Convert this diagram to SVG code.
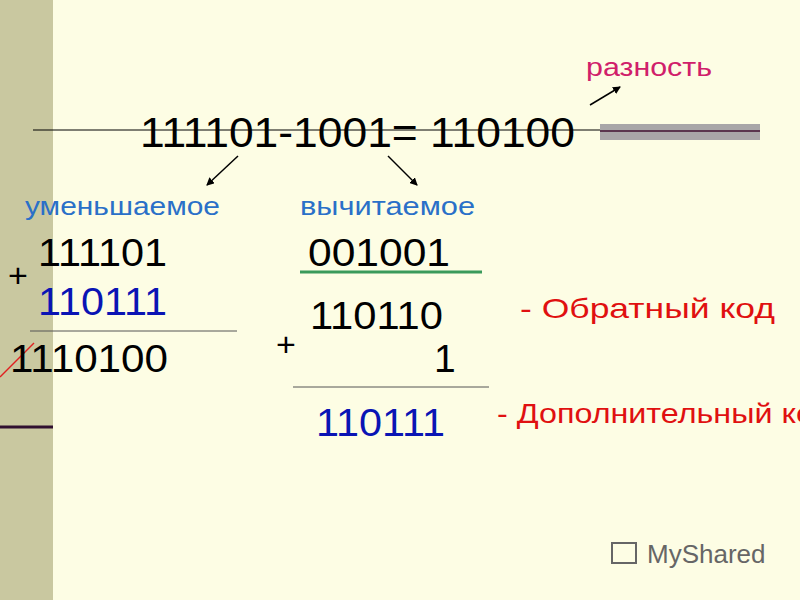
<svg xmlns="http://www.w3.org/2000/svg" width="800" height="600" viewBox="0 0 800 600">
<defs>
<marker id="ah" markerWidth="8" markerHeight="8" refX="7" refY="4" orient="auto" markerUnits="userSpaceOnUse"><path d="M0,0 L8,4 L0,8 z" fill="#000"/></marker>
<style>
text{font-family:"Liberation Sans",Arial,sans-serif}
.big{font-size:42px;fill:#000}
.num{font-size:39px;fill:#000}
.blue{fill:#0a14b4}
.lbl{font-size:25px;fill:#2a70c8}
.red{font-size:28px;fill:#e01010}
.ln{stroke:#000;stroke-width:1}
</style>
</defs>
<rect width="800" height="600" fill="#fdfde4"/>
<rect x="0" y="0" width="53" height="600" fill="#c9c8a0"/>
<g id="connectors">
<line class="ln" x1="33" y1="130" x2="760" y2="130"/>
<rect x="600" y="124" width="160" height="16" fill="#a8a6a8"/>
<line x1="600" y1="131" x2="760" y2="131" stroke="#401030" stroke-width="1.5"/>
<line x1="238" y1="156" x2="207" y2="185" stroke="#000" stroke-width="1.5" marker-end="url(#ah)"/>
<line x1="388" y1="156" x2="417" y2="185" stroke="#000" stroke-width="1.5" marker-end="url(#ah)"/>
<line x1="590" y1="105" x2="620" y2="87" stroke="#000" stroke-width="1.5" marker-end="url(#ah)"/>
<line x1="300" y1="272" x2="482" y2="272" stroke="#3a9a5a" stroke-width="3"/>
<line x1="30" y1="331" x2="237" y2="331" stroke="#555" stroke-width="1"/>
<line x1="293" y1="387" x2="489" y2="387" stroke="#555" stroke-width="1"/>
<line x1="0" y1="377" x2="34" y2="343" stroke="#e02020" stroke-width="1.5"/>
<line x1="0" y1="427" x2="53" y2="427" stroke="#301030" stroke-width="3"/>
</g>
<g id="equation"><text class="big" x="140" y="147" textLength="435" lengthAdjust="spacingAndGlyphs">111101-1001= 110100</text></g>
<g id="raznost"><text x="586" y="76" font-size="26" fill="#d0206a" textLength="126" lengthAdjust="spacingAndGlyphs">разность</text></g>
<g id="umen"><text class="lbl" x="25" y="215" textLength="195" lengthAdjust="spacingAndGlyphs">уменьшаемое</text></g>
<g id="vych"><text class="lbl" x="300" y="215" textLength="175" lengthAdjust="spacingAndGlyphs">вычитаемое</text></g>
<g id="left-sum">
<text class="num" x="38" y="266" textLength="129" lengthAdjust="spacingAndGlyphs">111101</text>
<text x="8" y="287" font-size="34" fill="#000">+</text>
<text class="num blue" x="38" y="315" textLength="129" lengthAdjust="spacingAndGlyphs">110111</text>
<text class="num" x="10" y="372" textLength="158" lengthAdjust="spacingAndGlyphs">1110100</text>
</g>
<g id="right-sum">
<text class="num" x="308" y="266" textLength="142" lengthAdjust="spacingAndGlyphs">001001</text>
<text class="num" x="310" y="329" textLength="133" lengthAdjust="spacingAndGlyphs">110110</text>
<text x="276" y="356" font-size="34" fill="#000">+</text>
<text class="num" x="434" y="372">1</text>
<text class="num blue" x="316" y="436" textLength="129" lengthAdjust="spacingAndGlyphs">110111</text>
</g>
<g id="labels">
<text class="red" x="520" y="318" textLength="255" lengthAdjust="spacingAndGlyphs">- Обратный код</text>
<text class="red" x="497" y="423" font-size="26" textLength="335" lengthAdjust="spacingAndGlyphs">- Дополнительный код</text>
</g>
<g id="logo"><text x="647" y="563" font-size="26" fill="#666">MyShared</text>
<rect x="612" y="543" width="24" height="20" fill="none" stroke="#666" stroke-width="2"/></g>
</svg>
